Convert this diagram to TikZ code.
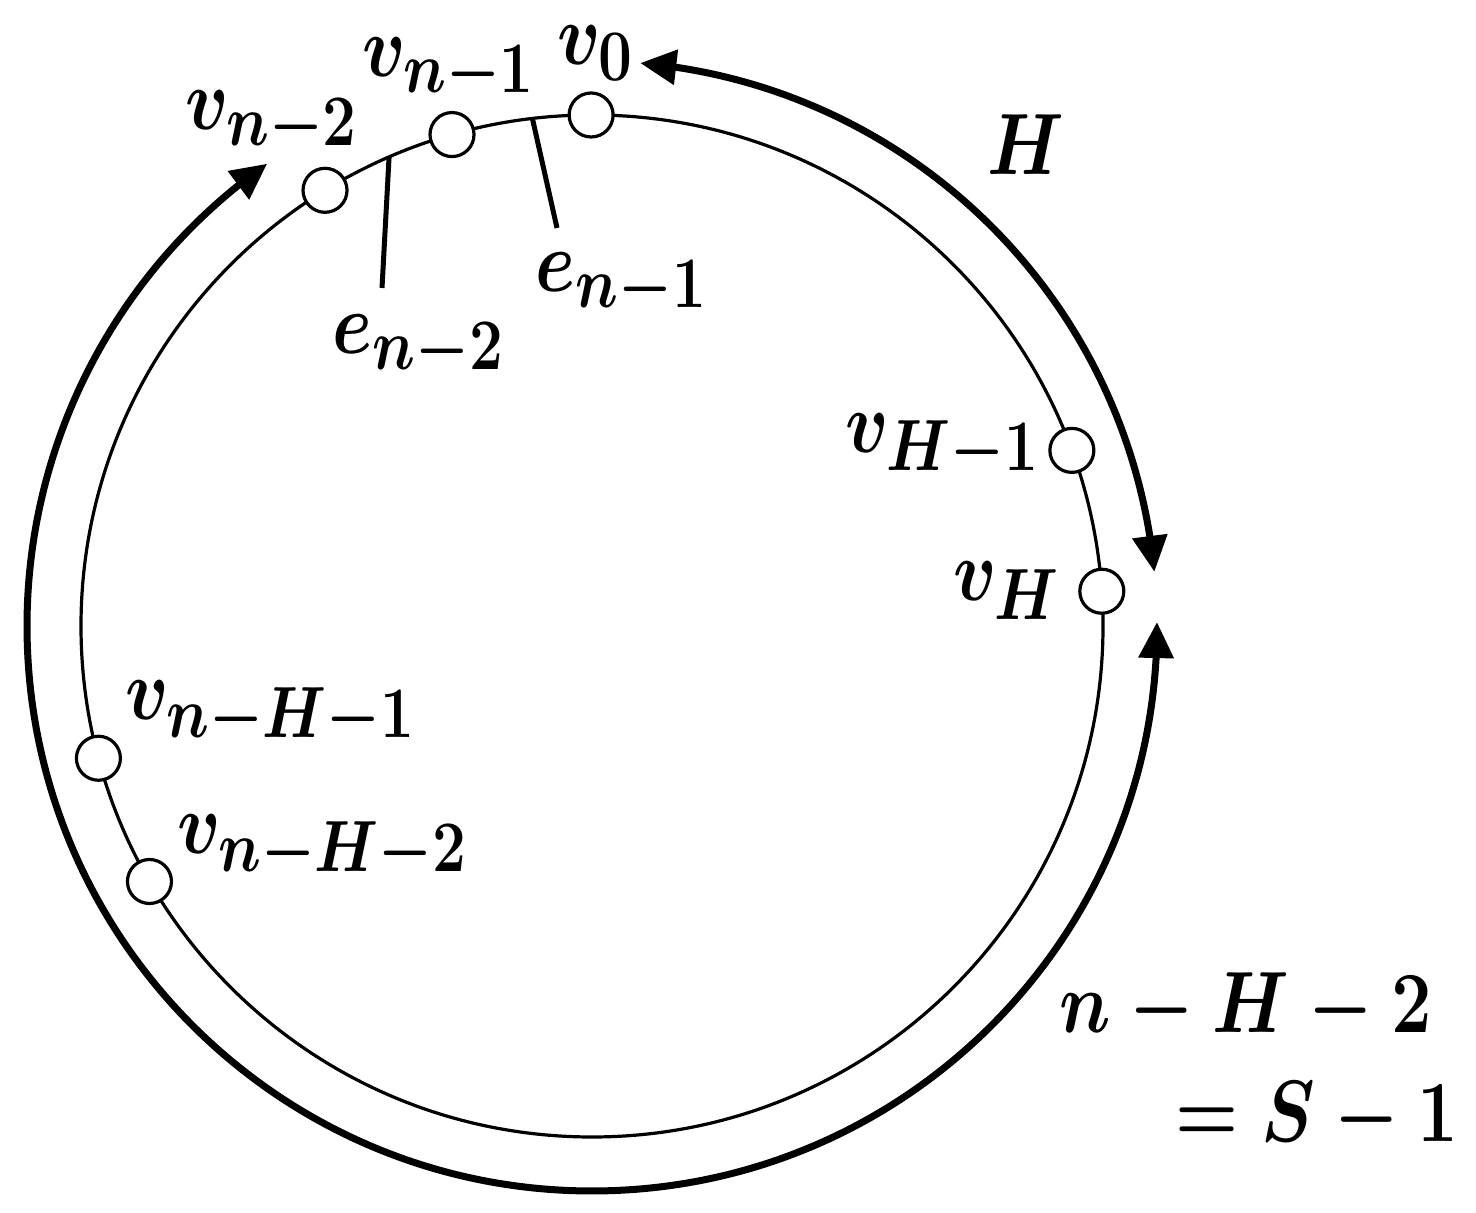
\documentclass[tikz,border=0pt]{standalone}
\usetikzlibrary{arrows.meta,bending,calc}
\newcommand{\lbtxt}[1]{\scalebox{1.45}[1.75]{$#1$}}
\begin{document}
\begin{tikzpicture}[x=0.5pt,y=0.5pt,
  ring/.style={line width=1.6pt},
  vtx/.style={circle,draw,fill=white,line width=1.6pt,minimum size=22pt,inner sep=0pt},
  lbl/.style={inner sep=0pt,font=\Huge\boldmath},
  spanarrow/.style={line width=3.5pt,{Triangle[length=18pt,width=17pt,flex]}-{Triangle[length=18pt,width=17pt,flex]}},
  pointer/.style={line width=2.5pt}]
\useasboundingbox (0,0) rectangle (1476,1213);
\coordinate (C) at (592,587);
% main ring
\draw[ring] (C) circle[radius=511];
% edge pointers
\coordinate (e1s) at ($(C)+(96.7:511)$);
\coordinate (e1t) at (557,985);
\coordinate (e2s) at ($(C)+(113.4:511)$);
\coordinate (e2t) at (382,925);
\draw[pointer] (e1s) -- (e1t);
\draw[pointer] (e2s) -- (e2t);
% vertices
\node[vtx] (v0)   at ($(C)+(90.1:511)$) {};
\node[vtx] (vn1)  at ($(C)+(105.9:511)$) {};
\node[vtx] (vn2)  at ($(C)+(121.5:511)$) {};
\node[vtx] (vH1)  at ($(C)+(20.1:511)$) {};
\node[vtx] (vH)   at ($(C)+(3.9:511)$) {};
\node[vtx] (vnH1) at ($(C)+(195:511)$) {};
\node[vtx] (vnH2) at ($(C)+(210:511)$) {};
% outer arcs
\draw[spanarrow] ($(C)+(85.1:565)$) arc[start angle=85.1,end angle=5.5,radius=565];
\draw[spanarrow] ($(C)+(0.4:565)$) arc[start angle=0.4,end angle=-234.9,radius=565];
% labels
\node[lbl,anchor=west] (lv0)   at (557,1160) {\lbtxt{v_0}};
\node[lbl,anchor=west] (lvn1)  at (362,1143) {\lbtxt{v_{n-1}}};
\node[lbl,anchor=west] (lvn2)  at (185,1090) {\lbtxt{v_{n-2}}};
\node[lbl] (lH)    at (1026,1068) {\lbtxt{H}};
\node[lbl,anchor=east] (lvH1)  at (1040,766) {\lbtxt{v_{H-1}}};
\node[lbl,anchor=east] (lvH)   at (1060,622) {\lbtxt{v_H}};
\node[lbl,anchor=west] (lvnH1) at (125,499) {\lbtxt{v_{n-H-1}}};
\node[lbl,anchor=west] (lvnH2) at (177,365) {\lbtxt{v_{n-H-2}}};
\node[lbl,anchor=west] (le1)   at (535,928) {\lbtxt{e_{n-1}}};
\node[lbl,anchor=west] (le2)   at (332,866) {\lbtxt{e_{n-2}}};
\node[lbl,anchor=east] (lS1)   at (1432,205) {\lbtxt{n-H-2}};
\node[lbl,anchor=east] (lS2)   at (1458,96) {\lbtxt{=S-1}};
\end{tikzpicture}
\end{document}
